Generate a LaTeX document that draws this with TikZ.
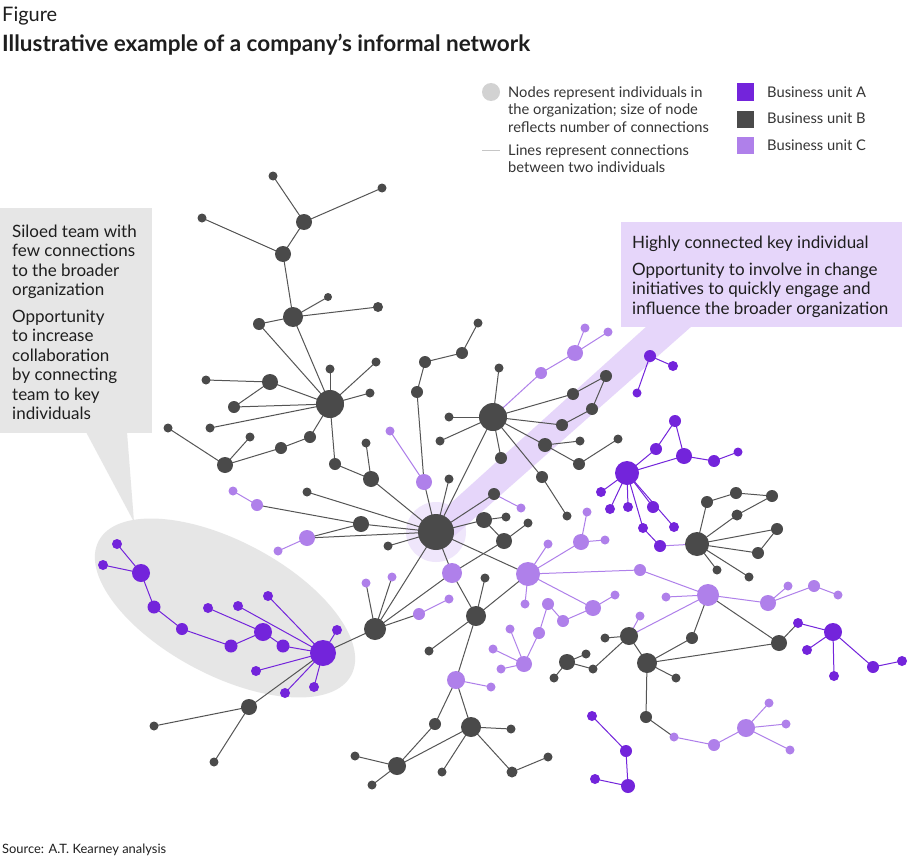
\documentclass[tikz,border=0pt]{standalone}
\usepackage{fontspec}
\setmainfont{Lato}
\definecolor{cA}{HTML}{7324DB}
\definecolor{cB}{HTML}{4A4A4A}
\definecolor{cC}{HTML}{AF80EA}
\definecolor{eBcol}{HTML}{555555}
\definecolor{grayfill}{HTML}{E6E6E6}
\definecolor{lav}{HTML}{E6D6FA}
\definecolor{halocol}{HTML}{EFE6FB}
\definecolor{txt}{HTML}{1E1E1E}
\pgfdeclarelayer{back}
\pgfdeclarelayer{edges}
\pgfsetlayers{back,edges,main}
\tikzset{
  nA/.style={circle,fill=cA,inner sep=0pt,minimum size={2*#1}},
  nB/.style={circle,fill=cB,inner sep=0pt,minimum size={2*#1}},
  nC/.style={circle,fill=cC,inner sep=0pt,minimum size={2*#1}},
  eA/.style={draw=cA,line width=1pt},
  eB/.style={draw=eBcol,line width=1pt},
  eC/.style={draw=cC,line width=1pt},
  boxtxt/.style={anchor=base west,inner sep=0pt,text=txt,font=\fontsize{17}{19}\selectfont},
  legtxt/.style={anchor=base west,inner sep=0pt,text=txt!90,font=\fontsize{14.7}{17}\selectfont},
}
\begin{document}
\begin{tikzpicture}[x=1pt,y=-1pt]
\useasboundingbox (0,0) rectangle (908,859);
\begin{pgfonlayer}{back}
\fill[white] (0,0) rectangle (908,859);
% left callout
\fill[grayfill] (0,208) rectangle (152,433);
\fill[grayfill] (86,432) -- (127,432) -- (134,522) -- cycle;
\fill[grayfill, rotate around={-28:(225,608)}] (225,608) ellipse [x radius=143, y radius=67];
% right callout
\fill[lav] (621,222) rectangle (902,327);
\fill[halocol] (436,532) circle (30);
\fill[lav] (647,326) -- (692,326) -- (452,538) -- (431,521) -- cycle;
\end{pgfonlayer}

% titles
\node[anchor=base west,inner sep=0pt,text=txt,font=\fontsize{20}{24}\selectfont] (fig) at (2,22) {Figure};
\node[anchor=base west,inner sep=0pt,text=txt,font=\fontsize{22.5}{26}\selectfont\bfseries] (title) at (2,52) {Illustrative example of a company’s informal network};

% legend
\fill[gray!35] (491,92) circle (9);
\draw[gray!45,line width=1pt] (482,150) -- (500,150);
\node[legtxt] (l1) at (508,97) {Nodes represent individuals in};
\node[legtxt] (l2) at (508,114.5) {the organization; size of node};
\node[legtxt] (l3) at (508,132) {reflects number of connections};
\node[legtxt] (l4) at (508,155) {Lines represent connections};
\node[legtxt] (l5) at (508,172) {between two individuals};
\fill[cA] (736.5,83.5) rectangle (753.5,100.5);
\fill[cB] (736.5,110.5) rectangle (753.5,127.5);
\fill[cC] (736.5,136.5) rectangle (753.5,153.5);
\node[legtxt] (la) at (767,97) {Business unit A};
\node[legtxt] (lb) at (767,124) {Business unit B};
\node[legtxt] (lc) at (767,150) {Business unit C};

% left box text
\node[boxtxt] (s1) at (12,237) {Siloed team with};
\node[boxtxt] (s2) at (12,256.5) {few connections};
\node[boxtxt] (s3) at (12,276) {to the broader};
\node[boxtxt] (s4) at (12,295.5) {organization};
\node[boxtxt] (s5) at (12,322) {Opportunity};
\node[boxtxt] (s6) at (12,341.5) {to increase};
\node[boxtxt] (s7) at (12,361) {collaboration};
\node[boxtxt] (s8) at (12,380.5) {by connecting};
\node[boxtxt] (s9) at (12,400) {team to key};
\node[boxtxt] (s10) at (12,419.5) {individuals};
% right box text
\node[boxtxt] (r1) at (632,248) {Highly connected key individual};
\node[boxtxt] (r2) at (632,275) {Opportunity to involve in change};
\node[boxtxt] (r3) at (632,294.5) {initiatives to quickly engage and};
\node[boxtxt] (r4) at (632,314) {influence the broader organization};
% source
\node[anchor=base west,inner sep=0pt,text=txt,font=\fontsize{12.9}{15}\selectfont] (src) at (2,853) {Source: A.T. Kearney analysis};

% unit B nodes
\foreach \n/\x/\y/\r in {b1/273/176/4.5,b2/382/188/4.5,b3/304/222/8,b4/202/218/4.5,b5/283/254/8,b6/293/317/10,b7/328/297/4,b8/378/307/5,b9/259/324/6,
 bB/330/404/14,b10/330/369/4.5,b11/376/362/4.5,b12/370/393/4.5,b13/270/382/8,b14/206/380/4.5,b15/234/407/6,b16/210/428/4.5,b17/168/428/4.5,b18/225/465/8,b19/250/437/4.5,b20/281/448/6,b21/310/437/6,b22/335/464/6,b23/366/443/4.5,b24/371/479/8,
 bC/436/532/18,b25/361/524/8,b26/307/492/4.5,b27/388/546/4.5,bD1/375/629/11,b28/249/707/8,b29/154/726/4.5,b30/214/762/4.5,
 b31/504/541/8,b32/476/616/10,b33/485/578/4.5,b34/429/651/4.5,b35/435/724/6,b36/471/727/10,b37/511/729/4.5,b38/442/772/4.5,b39/512/772/5.5,b40/548/757/4.5,b41/397/766/9,b42/355/756/4.5,b43/372/785/4.5,
 bE/629/636/9,b44/605/638/4.5,bF/647/663/10,b45/593/669/4.5,b46/567/662/8,b47/586/654/4.5,b48/554/678/4.5,b49/692/638/6,b50/779/643/8,b51/676/678/4.5,b52/646/717/6,
 bG/697/544/12,b53/707/502/6,b54/736/493/6,b55/772/496/6,b56/737/515/5.5,b57/777/529/6,b58/758/553/6,b59/717/570/4.5,b60/749/577/4.5,
 bD/493/417/14,b61/478/323/4.5,b62/462/353/6,b63/425/362/6,b64/417/392/6,b65/499/368/4.5,b66/449/417/4.5,b67/440/441/4.5,b68/573/394/6,b69/606/376/6,b70/592/409/6,b71/562/425/6,b72/545/445/7,b73/580/441/4.5,b74/579/464/6,b75/618/439/4.5,b76/501/458/6,b78/542/477/6,b79/567/516/4.5,b80/449/479/4.5,b77/494/494/6,b81/484/520/8,b82/506/517/4.5,b83/528/523/4.5}
  \node[nB=\r] (\n) at (\x,\y) {};
% unit C nodes
\foreach \n/\x/\y/\r in {c1/233/491/4.5,c2/257/505/6,c3/307/538/8,c4/278/551/4.5,c5/366/583/4.5,c6/392/577/4.5,c7/452/573/10,c8/419/614/6,c9/449/599/4.5,c10/456/680/9,c11/491/687/4.5,
 cH2/528/574/12,c12/525/604/4.5,c13/548/544/4.5,c14/581/542/8,c15/587/512/4.5,c16/605/540/4.5,c17/593/608/8,c18/615/595/4.5,c19/563/621/6,c20/548/604/6,c21/539/633/6,c22/524/664/8,c23/493/649/4.5,c24/501/669/4.5,c25/510/629/4.5,
 c26/640/570/6,cH3/708/595/11,c27/666/597/4.5,c28/768/603/8,c29/788/586/4.5,c30/814/586/6,c31/838/595/4.5,c32/640/616/4.5,c33/674/737/4.5,c34/714/745/6,cH4/746/728/9,c35/769/703/4.5,c36/786/724/4.5,c37/790/750/4.5,
 c40/390/431/4.5,c41/424/482/8,c42/541/373/6,c43/575/353/8,c44/585/328/4.5,c45/608/332/4.5,c46/521/508/4.5}
  \node[nC=\r] (\n) at (\x,\y) {};
% unit A nodes
\foreach \n/\x/\y/\r in {a1/117/544/5,a2/103/565/5,a3/141/573/9,a4/154/607/6.5,a5/182/629/6,a6/231/646/6.5,a7/208/608/5,a8/238/606/5,a9/263/632/9,a10/268/596/5,a11/283/646/6.5,aE/323/653/13,a12/337/630/5,a13/256/671/5,a14/285/693/5,a15/314/687/5,
 a20/798/623/5,aH/833/632/9,a21/807/650/5,a22/873/667/6,a23/902/661/5,a24/834/676/5,a25/592/716/5,a26/626/751/6,a27/628/786/7,a28/595/779/5,
 aF/627/473/12,a30/650/356/6,a31/673/366/5,a32/637/393/4.5,a33/675/421/6,a34/656/449/6,a35/684/456/8,a36/714/461/6,a37/738/452/4.5,a38/601/492/5,a39/610/509/5,a40/628/507/5,a41/653/507/6,a42/674/527/5,a43/643/528/5,a44/660/546/6}
  \node[nA=\r] (\n) at (\x,\y) {};

\begin{pgfonlayer}{edges}
\foreach \u/\v in {b1/b3,b2/b3,b3/b5,b4/b5,b5/b6,b6/b7,b6/b8,b6/b9,b6/bB,b9/bB,
 bB/b10,bB/b11,bB/b12,bB/b13,b13/b14,b13/b15,b15/bB,b16/bB,b17/b18,b18/b19,b18/b20,b20/b21,b21/bB,bB/b22,b22/b24,b23/b24,b24/bC,
 c2/b25,b25/bC,b26/bC,c3/b25,c3/bC,b27/bC,
 aE/bD1,aE/b28,b28/b29,b28/b30,c5/bD1,c6/bD1,bD1/bC,bD1/c7,bD1/c8,
 c7/bC,c7/b31,c7/b32,b32/b33,b32/cH2,b32/b34,b32/c10,c10/b35,c10/b36,b36/b37,b36/b38,b36/b39,b39/b40,b41/b35,b41/b36,b41/b42,b41/b43,
 bC/cH2,b64/c41,c41/bC,b62/b61,b62/b63,b63/b64,
 bD/b65,bD/b66,bD/b67,bD/b68,b68/b69,b69/b70,b70/b71,b71/bD,bD/b72,b72/b73,b72/b74,b74/b75,bD/b76,bD/b78,b78/b79,bD/bC,b80/bC,b77/bC,b81/bC,b81/b82,b81/b31,b31/b83,
 cH3/b49,cH3/b50,b49/bF,bF/b50,b50/a20,bE/b44,bE/bF,bE/b45,b46/b47,b46/b45,b46/b48,bF/b51,bF/b52,b52/c33,
 bG/b53,b53/b54,b54/b55,b55/b56,b56/bG,bG/b57,b57/b58,b58/bG,bG/b59,bG/b60}
  \draw[eB] (\u.center) -- (\v.center);
\foreach \u/\v in {c1/c2,c4/c3,c8/c9,c10/c11,cH2/c12,cH2/c13,cH2/c14,c14/c15,c14/c16,cH2/c17,c17/c18,c17/c19,c19/c20,c20/c21,c21/c22,c22/c23,c22/c24,c22/c25,
 cH2/c26,c26/cH3,c27/cH3,cH3/c28,c28/c29,c28/c30,c30/c31,cH3/bE,bE/c32,c33/c34,c34/cH4,cH4/c35,cH4/c36,cH4/c37,c40/c41,bD/c42,c42/c43,c43/c44,c43/c45,b77/c46,a44/bG}
  \draw[eC] (\u.center) -- (\v.center);
\foreach \u/\v in {a1/a3,a2/a3,a3/a4,a4/a5,a5/a6,a6/a9,a7/a9,a9/a11,a11/aE,a8/aE,a10/aE,a12/aE,a13/aE,a14/aE,a15/aE,
 a20/aH,aH/a21,aH/a22,a22/a23,aH/a24,a25/a26,a26/a27,a27/a28,a30/a31,a30/a32,
 aF/a34,a34/a33,a33/a35,aF/a35,a35/a36,a36/a37,aF/a38,aF/a39,aF/a40,aF/a41,aF/a42,aF/a43,a43/a44}
  \draw[eA] (\u.center) -- (\v.center);
\end{pgfonlayer}
\end{tikzpicture}
\end{document}
